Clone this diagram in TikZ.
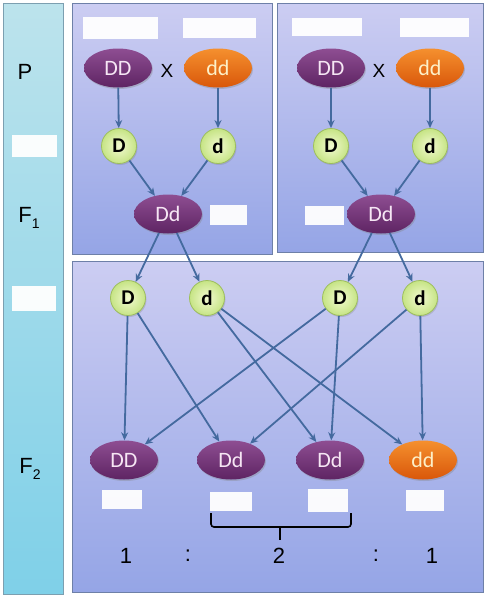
\documentclass[tikz,border=0pt]{standalone}
\usepackage{fontspec}
\setmainfont{Carlito}
\newfontfamily\arialf{Liberation Sans}
\usetikzlibrary{arrows.meta,shadows,positioning,shapes.geometric}
\definecolor{barTop}{HTML}{BCE3EC}
\definecolor{barBot}{HTML}{7FD0E8}
\definecolor{barEdge}{HTML}{7C9FB0}
\definecolor{panTop}{HTML}{CCCDF2}
\definecolor{panBot}{HTML}{95A5E6}
\definecolor{panEdge}{HTML}{6E80A8}
\definecolor{purpA}{HTML}{8E4E92}
\definecolor{purpB}{HTML}{5E2463}
\definecolor{orA}{HTML}{F5902E}
\definecolor{orB}{HTML}{D9570A}
\definecolor{grnA}{HTML}{F2FAD0}
\definecolor{grnB}{HTML}{C6E485}
\definecolor{grnEdge}{HTML}{9DBE5E}
\definecolor{arr}{HTML}{446A9F}
\definecolor{txtP}{HTML}{F6E6F4}
\definecolor{txtO}{HTML}{FDF0C8}
\tikzset{
  panel/.style={draw=panEdge, line width=0.8pt, top color=panTop, bottom color=panBot},
  blank/.style={fill=white, draw=none, inner sep=0pt, opacity=0.95},
  purp/.style={ellipse, minimum width=68pt, minimum height=39pt, inner sep=0pt,
    top color=purpA, bottom color=purpB, draw=none, text=txtP,
    font=\fontsize{22}{25}\selectfont,
    drop shadow={opacity=0.35, shadow xshift=1pt, shadow yshift=-1.5pt}},
  oran/.style={purp, top color=orA, bottom color=orB, text=txtO},
  gam/.style={circle, minimum size=35pt, inner sep=0pt, draw=grnEdge, line width=0.8pt,
    inner color=grnA, outer color=grnB, text=black,
    font=\fontsize{21}{24}\selectfont\bfseries,
    drop shadow={opacity=0.3, shadow xshift=1pt, shadow yshift=-1.5pt}},
  lbl/.style={font=\arialf\fontsize{22}{26}\selectfont, text=black, inner sep=0pt},
  xlbl/.style={font=\arialf\fontsize{19}{22}\selectfont, text=black, inner sep=0pt},
  rat/.style={font=\arialf\fontsize{22}{25}\selectfont, text=black, inner sep=0pt},
  conn/.style={draw=arr, line width=1.8pt, -{Stealth[length=8pt,width=7pt]}},
}
\newcommand{\subsc}[1]{\raisebox{-0.45ex}{\fontsize{14}{16}\selectfont #1}}
\begin{document}
\begin{tikzpicture}[x=1pt,y=-1pt]
\useasboundingbox (0,0) rectangle (491,600);
\fill[white] (0,0) rectangle (491,600);
% left bar
\draw[draw=barEdge, line width=0.8pt, top color=barTop, bottom color=barBot] (3,3) rectangle (63,594);
% panels
\draw[panel] (72,3) rectangle (272,254);
\draw[panel] (277,3) rectangle (483,252);
\draw[panel] (72,261) rectangle (483,592);
% left labels
\node[lbl] (P) at (25,71.5) {P};
\node[lbl] (F1) at (29,218) {F\subsc{1}};
\node[lbl] (F2) at (30,469) {F\subsc{2}};
\node[blank, minimum width=45pt, minimum height=22pt] (b1) at (34.5,146) {};
\node[blank, minimum width=44pt, minimum height=25pt] (b2) at (34,298.5) {};
% top-left panel
\node[blank, minimum width=75pt, minimum height=22pt] (tl1) at (120.5,28) {};
\node[blank, minimum width=73pt, minimum height=20pt] (tl2) at (219.5,28) {};
\node[purp] (DDa) at (118,68) {DD};
\node[oran] (dda) at (218,68) {dd};
\node[xlbl] (Xa) at (167,71) {X};
\node[gam] (Ga1) at (119,146) {D};
\node[gam] (Ga2) at (218,146) {d};
\node[purp] (Dda) at (168,214) {Dd};
\node[blank, minimum width=37pt, minimum height=20pt] (tl3) at (228.5,215) {};
% top-right panel
\node[blank, minimum width=70pt, minimum height=18pt] (tr1) at (327,27) {};
\node[blank, minimum width=69pt, minimum height=19pt] (tr2) at (434.5,27.5) {};
\node[purp] (DDb) at (331,68) {DD};
\node[oran] (ddb) at (430,68) {dd};
\node[xlbl] (Xb) at (379,71) {X};
\node[gam] (Gb1) at (331,146) {D};
\node[gam] (Gb2) at (430,146) {d};
\node[purp] (Ddb) at (381,214) {Dd};
\node[blank, minimum width=39pt, minimum height=19pt] (tr3) at (324.5,215.5) {};
% bottom panel gametes
\node[gam] (H1) at (128,298) {D};
\node[gam] (H2) at (207,298) {d};
\node[gam] (H3) at (340,298) {D};
\node[gam] (H4) at (420,298) {d};
% offspring
\node[purp] (O1) at (124,460) {DD};
\node[purp] (O2) at (231,460) {Dd};
\node[purp] (O3) at (330,460) {Dd};
\node[oran] (O4) at (423,460) {dd};
\node[blank, minimum width=40pt, minimum height=19pt] (w1) at (122,499.5) {};
\node[blank, minimum width=42pt, minimum height=19pt] (w2) at (231,501.5) {};
\node[blank, minimum width=40pt, minimum height=23pt] (w3) at (328,500.5) {};
\node[blank, minimum width=38pt, minimum height=21pt] (w4) at (425,500.5) {};
% brace
\coordinate (brL) at (211,513);
\coordinate (brR) at (351,513);
\coordinate (brT) at (280,540);
\draw[black, line width=1.6pt, rounded corners=3pt] (brL) -- (211,527) -- (351,527) -- (brR);
\draw[black, line width=1.6pt] (280,527) -- (brT);
% ratio
\node[rat] (r1) at (126,556) {1};
\node[rat] (c1) at (188,556) {:};
\node[rat] (r2) at (279,556) {2};
\node[rat] (c2) at (376,556) {:};
\node[rat] (r3) at (432,556) {1};
% connectors
\draw[conn] (DDa) -- (Ga1);
\draw[conn] (dda) -- (Ga2);
\draw[conn] (Ga1) -- (Dda);
\draw[conn] (Ga2) -- (Dda);
\draw[conn] (DDb) -- (Gb1);
\draw[conn] (ddb) -- (Gb2);
\draw[conn] (Gb1) -- (Ddb);
\draw[conn] (Gb2) -- (Ddb);
\draw[conn] (Dda) -- (H1);
\draw[conn] (Dda) -- (H2);
\draw[conn] (Ddb) -- (H3);
\draw[conn] (Ddb) -- (H4);
\draw[conn] (H1) -- (O1);
\draw[conn] (H1) -- (O2);
\draw[conn] (H2) -- (O3);
\draw[conn] (H2) -- (O4);
\draw[conn] (H3) -- (O1);
\draw[conn] (H3) -- (O3);
\draw[conn] (H4) -- (O2);
\draw[conn] (H4) -- (O4);
\end{tikzpicture}
\end{document}
